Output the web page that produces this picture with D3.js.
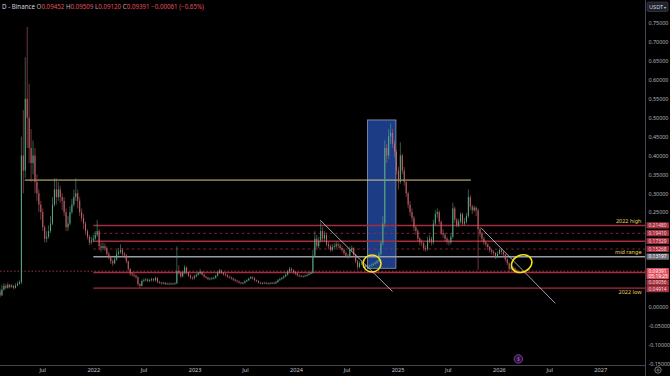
<!DOCTYPE html>
<html>
<head>
<meta charset="utf-8">
<script src="https://cdn.jsdelivr.net/npm/d3@7"></script>
<style>
html, body { margin: 0; padding: 0; background: #000; }
svg { display: block; font-family: "Noto Sans", "DejaVu Sans", sans-serif; }
</style>
</head>
<body>
<div id="chart"></div>
<script>
// weekly candles
const firstWeek = "2021-01-30";
const firstOpen = 0.040;
const closes = [
  0.030,0.045,0.055,0.050,0.058,0.052,0.055,0.050,0.056,0.060,
  0.065,0.400,0.360,0.550,0.500,0.420,0.380,0.400,0.330,0.300,
  0.270,0.250,0.210,0.180,0.185,0.200,0.220,0.270,0.310,0.290,
  0.310,0.290,0.280,0.250,0.210,0.220,0.250,0.270,0.290,0.300,
  0.280,0.250,0.235,0.220,0.200,0.185,0.170,0.175,0.180,0.190,
  0.200,0.160,0.155,0.160,0.155,0.140,0.130,0.120,0.115,0.125,
  0.140,0.145,0.150,0.140,0.136,0.120,0.100,0.088,0.085,0.082,
  0.078,0.060,0.055,0.068,0.070,0.072,0.068,0.070,0.073,0.070,
  0.076,0.066,0.064,0.062,0.063,0.060,0.061,0.060,0.061,0.060,
  0.062,0.095,0.090,0.080,0.090,0.104,0.090,0.083,0.077,0.075,
  0.080,0.084,0.088,0.092,0.085,0.080,0.077,0.073,0.074,0.075,
  0.076,0.082,0.090,0.096,0.090,0.086,0.084,0.080,0.078,0.075,
  0.072,0.069,0.067,0.064,0.062,0.063,0.067,0.070,0.074,0.078,
  0.076,0.070,0.068,0.064,0.062,0.062,0.063,0.062,0.061,0.062,
  0.063,0.062,0.065,0.070,0.073,0.076,0.080,0.085,0.093,0.100,
  0.097,0.092,0.088,0.083,0.081,0.081,0.080,0.082,0.084,0.087,
  0.090,0.135,0.180,0.160,0.175,0.200,0.180,0.190,0.165,0.160,
  0.150,0.158,0.160,0.165,0.162,0.155,0.150,0.142,0.135,0.132,
  0.150,0.155,0.138,0.120,0.105,0.115,0.118,0.110,0.105,0.107,
  0.108,0.110,0.113,0.116,0.120,0.140,0.168,0.220,0.420,0.400,
  0.450,0.460,0.430,0.410,0.360,0.330,0.400,0.360,0.330,0.300,
  0.270,0.250,0.235,0.210,0.200,0.180,0.170,0.168,0.155,0.152,
  0.175,0.180,0.170,0.220,0.245,0.250,0.225,0.195,0.190,0.180,
  0.172,0.170,0.185,0.260,0.230,0.215,0.225,0.245,0.220,0.225,
  0.240,0.290,0.265,0.255,0.262,0.255,0.205,0.195,0.180,0.170,
  0.165,0.158,0.150,0.145,0.142,0.132,0.140,0.150,0.145,0.138,
  0.125,0.115,0.100,0.104,0.102,0.097,0.095,0.09391
];
const highs = [
  0.048,0.058,0.062,0.060,0.064,0.060,0.060,0.058,0.062,0.066,
  0.070,0.450,0.520,0.660,0.740,0.590,0.470,0.440,0.420,0.350,
  0.310,0.280,0.260,0.215,0.200,0.215,0.240,0.290,0.340,0.340,
  0.330,0.320,0.300,0.290,0.260,0.240,0.265,0.285,0.310,0.340,
  0.310,0.290,0.260,0.245,0.225,0.205,0.190,0.185,0.190,0.200,
  0.230,0.205,0.170,0.170,0.168,0.160,0.145,0.135,0.125,0.135,
  0.150,0.155,0.165,0.155,0.145,0.140,0.122,0.102,0.092,0.088,
  0.085,0.080,0.062,0.072,0.075,0.076,0.075,0.074,0.077,0.076,
  0.080,0.078,0.069,0.066,0.066,0.065,0.064,0.064,0.064,0.063,
  0.065,0.160,0.110,0.094,0.095,0.110,0.106,0.093,0.085,0.080,
  0.084,0.088,0.092,0.100,0.094,0.087,0.082,0.079,0.078,0.078,
  0.080,0.085,0.093,0.100,0.098,0.092,0.089,0.086,0.082,0.080,
  0.077,0.074,0.071,0.069,0.066,0.066,0.070,0.073,0.077,0.081,
  0.081,0.078,0.072,0.070,0.066,0.065,0.066,0.066,0.064,0.065,
  0.066,0.066,0.068,0.073,0.076,0.079,0.083,0.088,0.097,0.105,
  0.104,0.099,0.094,0.090,0.085,0.084,0.083,0.085,0.087,0.090,
  0.093,0.150,0.200,0.190,0.185,0.225,0.210,0.200,0.195,0.172,
  0.165,0.165,0.168,0.172,0.170,0.166,0.160,0.155,0.146,0.140,
  0.158,0.162,0.158,0.140,0.124,0.120,0.123,0.120,0.113,0.111,
  0.112,0.114,0.117,0.120,0.124,0.145,0.175,0.240,0.440,0.430,
  0.470,0.485,0.470,0.440,0.415,0.370,0.435,0.405,0.370,0.335,
  0.305,0.280,0.260,0.240,0.215,0.205,0.185,0.178,0.172,0.162,
  0.185,0.190,0.185,0.230,0.255,0.260,0.255,0.228,0.205,0.195,
  0.185,0.178,0.195,0.275,0.265,0.235,0.232,0.250,0.248,0.235,
  0.248,0.310,0.295,0.270,0.268,0.265,0.260,0.210,0.198,0.185,
  0.175,0.168,0.160,0.153,0.150,0.145,0.146,0.155,0.153,0.147,
  0.140,0.128,0.117,0.108,0.107,0.104,0.099,0.09509
];
const lows = [
  0.025,0.028,0.043,0.046,0.048,0.048,0.050,0.046,0.048,0.054,
  0.058,0.060,0.300,0.340,0.420,0.380,0.330,0.350,0.300,0.280,
  0.250,0.230,0.200,0.170,0.170,0.180,0.195,0.215,0.265,0.270,
  0.280,0.275,0.255,0.240,0.200,0.200,0.215,0.245,0.265,0.280,
  0.260,0.240,0.225,0.205,0.190,0.178,0.163,0.165,0.170,0.176,
  0.185,0.150,0.145,0.150,0.148,0.135,0.125,0.113,0.108,0.112,
  0.122,0.135,0.140,0.132,0.128,0.115,0.094,0.082,0.080,0.078,
  0.074,0.055,0.050,0.054,0.065,0.067,0.065,0.065,0.067,0.066,
  0.067,0.062,0.060,0.058,0.059,0.057,0.058,0.057,0.058,0.057,
  0.058,0.060,0.085,0.076,0.078,0.086,0.086,0.078,0.073,0.071,
  0.072,0.078,0.082,0.086,0.082,0.077,0.074,0.070,0.070,0.071,
  0.072,0.074,0.080,0.087,0.086,0.082,0.080,0.076,0.074,0.071,
  0.068,0.066,0.064,0.061,0.059,0.059,0.061,0.065,0.068,0.073,
  0.071,0.067,0.065,0.061,0.059,0.059,0.060,0.059,0.058,0.059,
  0.060,0.059,0.060,0.063,0.068,0.071,0.074,0.078,0.082,0.090,
  0.093,0.088,0.084,0.080,0.078,0.078,0.077,0.078,0.080,0.083,
  0.086,0.088,0.130,0.150,0.155,0.170,0.172,0.172,0.160,0.152,
  0.145,0.146,0.152,0.155,0.154,0.150,0.144,0.136,0.130,0.127,
  0.130,0.145,0.132,0.115,0.098,0.102,0.110,0.104,0.100,0.101,
  0.103,0.105,0.108,0.111,0.113,0.117,0.136,0.162,0.210,0.380,
  0.390,0.430,0.420,0.395,0.350,0.310,0.325,0.350,0.320,0.290,
  0.260,0.240,0.225,0.200,0.190,0.172,0.162,0.160,0.148,0.145,
  0.148,0.168,0.162,0.165,0.215,0.235,0.218,0.190,0.182,0.172,
  0.165,0.162,0.165,0.180,0.222,0.210,0.210,0.220,0.215,0.215,
  0.220,0.235,0.255,0.245,0.250,0.240,0.097,0.185,0.172,0.163,
  0.158,0.150,0.143,0.138,0.135,0.126,0.128,0.138,0.138,0.132,
  0.120,0.110,0.092,0.096,0.095,0.092,0.092,0.09120
];

const symbolName = "D - Binance";
const ohlcKeys = ["O", "H", "L", "C"];
const ohlcValues = ["0.09452", "0.09509", "0.09120", "0.09391"];
const changeText = "−0.00061 (−0.65%)";
const lastPrice = 0.09391;
const countdown = "05:19:25";
const currency = "USDT";

// drawn levels
const levelStart = "2022-01-01";
const levelValues = [0.21480, 0.19410, 0.17329, 0.15268, 0.13197, 0.09056, 0.04914];
const levelKinds = ["solid", "dash", "solid", "dash", "mid", "solid", "solid"];
const levelNames = ["2022 high", "", "", "", "mid range", "", "2022 low"];

const resistance = { from: "2021-04-29", to: "2025-09-22", value: 0.335 };
const trendLines = [
  [["2024-03-28", 0.229], ["2024-12-14", 0.040]],
  [["2025-10-28", 0.209], ["2026-07-23", 0.009]]
];
const pumpBox = { from: "2024-09-15", to: "2024-12-26", top: 0.494, bottom: 0.1016 };
const circles = [
  { date: "2024-10-01", value: 0.1143 },
  { date: "2026-03-24", value: 0.1140 }
];
const eventDate = "2026-03-12";

const priceTicks = [0.75, 0.70, 0.65, 0.60, 0.55, 0.50, 0.45, 0.40, 0.35, 0.30, 0.25, 0.00, -0.05, -0.10, -0.15];
const timeTicks = ["2021-07-01", "2022-01-01", "2022-07-01", "2023-01-01", "2023-07-01", "2024-01-01",
  "2024-07-01", "2025-01-01", "2025-07-01", "2026-01-01", "2026-07-01", "2027-01-01"];

const width = 670, height = 376;
const plotW = 645.5, plotH = 365.5;
const parse = d3.timeParse("%Y-%m-%d");
const fmt = v => d3.format(".5f")(v).replace("−", "-");

const x = d3.scaleTime()
  .domain([parse("2021-01-30"), parse("2027-06-13")])
  .range([0, plotW]);
const y = d3.scaleLinear()
  .domain([0, 0.75])
  .range([306.7, 23.2]);

const up = "#5aa882", down = "#c8636a";
const red = "#a52c3c";

const svg = d3.select("#chart").append("svg")
  .attr("width", width)
  .attr("height", height);

svg.append("rect").attr("width", width).attr("height", height).attr("fill", "#000");

const plot = svg.append("g");
plot.append("clipPath").attr("id", "clip")
  .append("rect").attr("width", plotW).attr("height", plotH);
const g = plot.append("g").attr("clip-path", "url(#clip)");

// blue box behind the candles
g.append("rect")
  .attr("x", x(parse(pumpBox.from)))
  .attr("y", y(pumpBox.top))
  .attr("width", x(parse(pumpBox.to)) - x(parse(pumpBox.from)))
  .attr("height", y(pumpBox.bottom) - y(pumpBox.top))
  .attr("fill", "#1d3c86")
  .attr("stroke", "#8d9cc0")
  .attr("stroke-width", 0.8);

// current price dotted line
g.append("line")
  .attr("x1", 0).attr("x2", plotW)
  .attr("y1", y(lastPrice)).attr("y2", y(lastPrice))
  .attr("stroke", "#d84a57").attr("stroke-width", 0.7)
  .attr("stroke-dasharray", "1.5,2");

// horizontal levels
const x0 = x(parse(levelStart));
levelValues.forEach((v, i) => {
  const k = levelKinds[i];
  g.append("line")
    .attr("x1", x0).attr("x2", plotW)
    .attr("y1", y(v)).attr("y2", y(v))
    .attr("stroke", k === "mid" ? "#9a9da6" : red)
    .attr("stroke-width", k === "dash" ? 0.8 : 1.4)
    .attr("stroke-dasharray", k === "dash" ? "2.5,3" : null);
});

g.append("line")
  .attr("x1", x(parse(resistance.from))).attr("x2", x(parse(resistance.to)))
  .attr("y1", y(resistance.value)).attr("y2", y(resistance.value))
  .attr("stroke", "#d8cc8a").attr("stroke-width", 1);

// candles
const start = parse(firstWeek);
const candles = closes.map((c, i) => ({
  date: d3.timeDay.offset(start, 7 * i),
  open: i === 0 ? firstOpen : closes[i - 1],
  close: c,
  high: highs[i],
  low: lows[i]
}));

const cg = g.append("g");
cg.selectAll("line")
  .data(candles)
  .join("line")
  .attr("x1", d => x(d.date)).attr("x2", d => x(d.date))
  .attr("y1", d => y(d.high)).attr("y2", d => y(d.low))
  .attr("stroke", d => d.close >= d.open ? up : down)
  .attr("stroke-width", 0.55);
cg.selectAll("rect")
  .data(candles)
  .join("rect")
  .attr("x", d => x(d.date) - 0.5)
  .attr("width", 1.0)
  .attr("y", d => y(Math.max(d.open, d.close)))
  .attr("height", d => Math.max(0.7, Math.abs(y(d.open) - y(d.close))))
  .attr("fill", d => d.close >= d.open ? up : down);

// trend lines
trendLines.forEach(t => {
  g.append("line")
    .attr("x1", x(parse(t[0][0]))).attr("y1", y(t[0][1]))
    .attr("x2", x(parse(t[1][0]))).attr("y2", y(t[1][1]))
    .attr("stroke", "#c9ccd4").attr("stroke-width", 0.8);
});

// yellow circles
circles.forEach((c, i) => {
  const cx = x(parse(c.date)), cy = y(c.value);
  g.append("ellipse")
    .attr("cx", cx).attr("cy", cy)
    .attr("rx", i === 0 ? 9 : 10.5).attr("ry", 8.5)
    .attr("transform", i === 0 ? null : `rotate(-25 ${cx} ${cy})`)
    .attr("fill", "none")
    .attr("stroke", "#f2e21c").attr("stroke-width", 1.6);
});

// level names
levelValues.forEach((v, i) => {
  if (!levelNames[i]) return;
  g.append("text")
    .attr("x", plotW - 4)
    .attr("y", levelNames[i] === "2022 low" ? y(v) + 6 : y(v) - 2.5)
    .attr("text-anchor", "end")
    .attr("font-size", 5.5)
    .attr("fill", "#e6d35c")
    .text(levelNames[i]);
});

// axis frame
svg.append("line").attr("x1", plotW).attr("x2", plotW).attr("y1", 0).attr("y2", height)
  .attr("stroke", "#434651").attr("stroke-width", 1);
svg.append("line").attr("x1", 0).attr("x2", plotW).attr("y1", plotH).attr("y2", plotH)
  .attr("stroke", "#434651").attr("stroke-width", 1);

// right axis
const yAxis = svg.append("g")
  .attr("transform", `translate(${plotW + 1},0)`)
  .call(d3.axisRight(y).tickValues(priceTicks).tickSize(0).tickPadding(2).tickFormat(fmt));
yAxis.select(".domain").remove();
yAxis.selectAll("text").attr("font-size", 5.4).attr("fill", "#b2b5be").attr("font-family", "Noto Sans, sans-serif");

// bottom axis
const xAxis = svg.append("g")
  .attr("transform", `translate(0,${plotH})`)
  .call(d3.axisBottom(x).tickValues(timeTicks.map(parse)).tickSize(0).tickPadding(3)
    .tickFormat(d => d.getMonth() === 0 ? d.getFullYear() : "Jul"));
xAxis.select(".domain").remove();
xAxis.selectAll("text").attr("font-size", 5.6).attr("fill", "#c4c7cf").attr("font-family", "Noto Sans, sans-serif");

// price labels on the axis, pushed apart when they overlap
const boxes = levelValues.map((v, i) => ({
  v, h: 6.6,
  fill: levelKinds[i] === "mid" ? "#6c6f7a" : "#a3303f",
  color: levelKinds[i] === "mid" ? "#ffffff" : "#f3d6da",
  lines: [fmt(v)]
}));
boxes.push({ v: lastPrice, h: 11.6, fill: "#e04e5c", color: "#ffffff", lines: [fmt(lastPrice), countdown], first: true });
boxes.sort((a, b) => y(a.v) - y(b.v) || (b.first ? 1 : 0) - (a.first ? 1 : 0));
let bottom = -Infinity;
boxes.forEach(b => {
  let top = y(b.v) - 3.3;
  if (top < bottom) top = bottom;
  b.top = top;
  bottom = top + b.h;
});
const lab = svg.append("g");
boxes.forEach(b => {
  lab.append("rect")
    .attr("x", plotW + 1).attr("y", b.top)
    .attr("width", 22.5).attr("height", b.h - 0.4)
    .attr("rx", 0.8)
    .attr("fill", b.fill);
  b.lines.forEach((t, j) => {
    lab.append("text")
      .attr("x", plotW + 3).attr("y", b.top + 4.9 + j * 5.4)
      .attr("font-size", 4.9).attr("fill", b.color)
      .text(t);
  });
});

// currency box
svg.append("rect").attr("x", 647).attr("y", 2).attr("width", 21).attr("height", 9.5).attr("rx", 1.5)
  .attr("fill", "#1e222d").attr("stroke", "#434651").attr("stroke-width", 0.6);
svg.append("text").attr("x", 649).attr("y", 8.8).attr("font-size", 5.6).attr("fill", "#d1d4dc").text(currency);
svg.append("text").attr("x", 664).attr("y", 8.5).attr("font-size", 4).attr("fill", "#d1d4dc").text("▾");

// title
const title = svg.append("text").attr("x", 2).attr("y", 8.5).attr("font-size", 6.2);
title.append("tspan").attr("fill", "#d1d4dc").text(symbolName + "  ");
ohlcKeys.forEach((k, i) => {
  title.append("tspan").attr("fill", "#b2b5be").text(k);
  title.append("tspan").attr("fill", "#e0505d").text(ohlcValues[i] + " ");
});
title.append("tspan").attr("fill", "#e0505d").text(changeText);

// event marker
const ex = x(parse(eventDate));
svg.append("circle").attr("cx", ex).attr("cy", 359).attr("r", 4.2)
  .attr("fill", "#2a1436").attr("stroke", "#8e3fb0").attr("stroke-width", 0.9);
svg.append("text").attr("x", ex).attr("y", 361).attr("text-anchor", "middle")
  .attr("font-size", 5).attr("fill", "#b46bd6").text("$");

// settings icon
svg.append("circle").attr("cx", 658).attr("cy", 370).attr("r", 3.2)
  .attr("fill", "none").attr("stroke", "#9598a1").attr("stroke-width", 0.8);
svg.append("circle").attr("cx", 658).attr("cy", 370).attr("r", 1.1)
  .attr("fill", "none").attr("stroke", "#9598a1").attr("stroke-width", 0.7);
</script>
</body>
</html>
